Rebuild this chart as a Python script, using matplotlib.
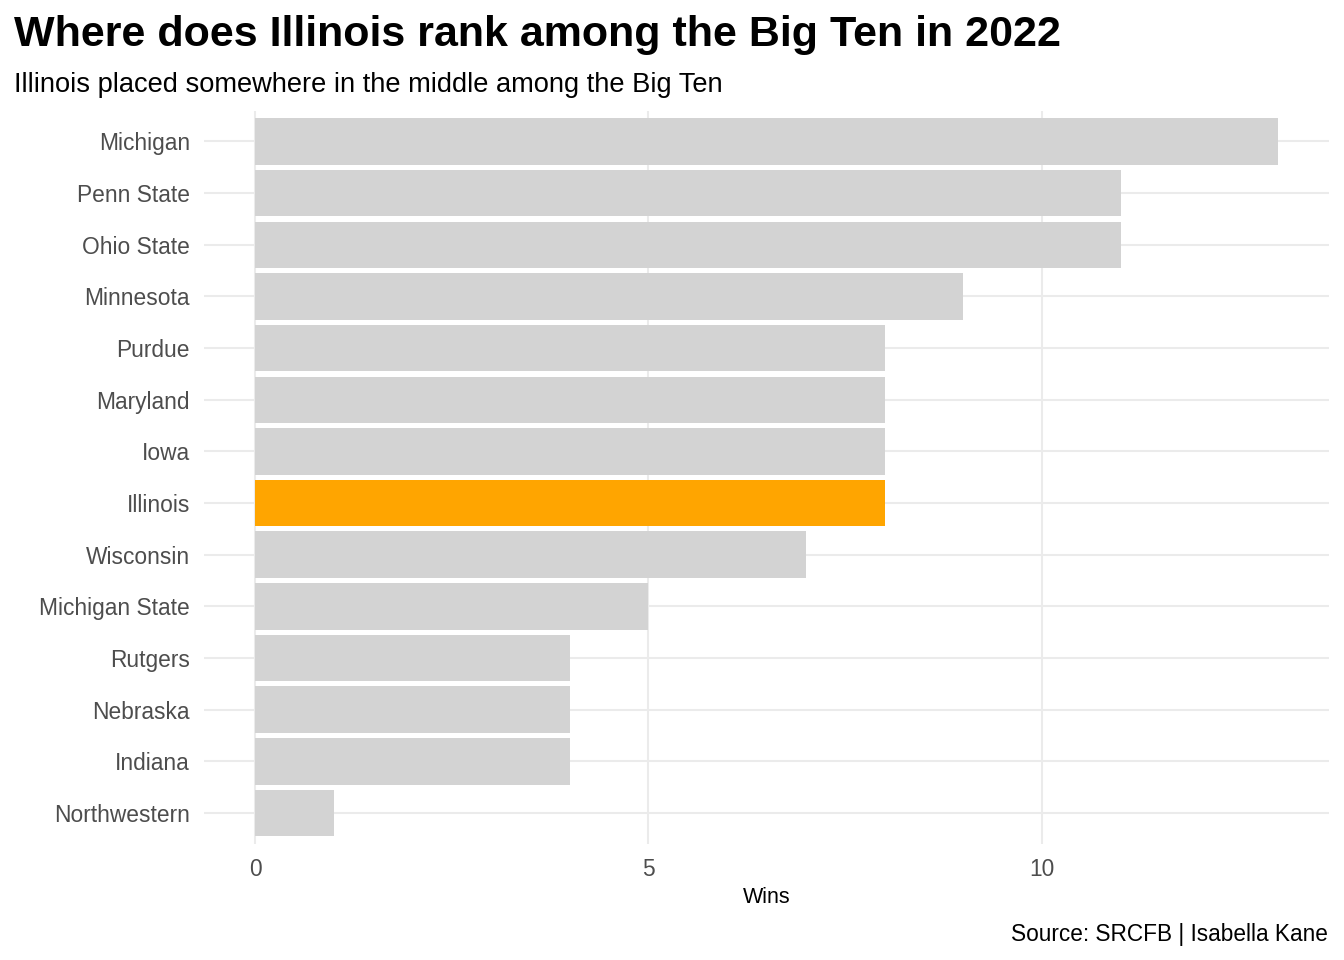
import matplotlib
matplotlib.use("Agg")
import matplotlib.pyplot as plt

teams = ["Michigan", "Penn State", "Ohio State", "Minnesota", "Purdue", "Maryland",
         "Iowa", "Illinois", "Wisconsin", "Michigan State", "Rutgers", "Nebraska",
         "Indiana", "Northwestern"]
wins = [13, 11, 11, 9, 8, 8, 8, 8, 7, 5, 4, 4, 4, 1]
highlight = "Illinois"
xticks = [0, 5, 10]

plt.rcParams['font.family'] = ['Liberation Sans', 'DejaVu Sans']

fig = plt.figure(figsize=(13.44, 9.6), dpi=100)
ax = fig.add_axes([204/1344, 1-844/960, (1329-204)/1344, (844-110.5)/960])

n = len(teams)
ypos = list(range(n))[::-1]
colors = ["#FFA500" if t == highlight else "#D3D3D3" for t in teams]
ax.barh(ypos, wins, height=0.9, color=colors, zorder=2)

xmax = max(wins)
ax.set_xlim(-0.05*xmax, xmax*1.05)
ax.set_ylim(-0.6, n-1+0.6)
ax.set_yticks(ypos)
ax.set_yticklabels(teams)
ax.set_xticks(xticks)
ax.set_xticklabels([str(v) for v in xticks])

for s in ax.spines.values():
    s.set_visible(False)
ax.grid(True, color="#EBEBEB", linewidth=1.5, zorder=0)
ax.set_axisbelow(True)
ax.tick_params(axis='both', length=0, labelsize=16.4, labelcolor="#4D4D4D")
ax.tick_params(axis='y', pad=10)
ax.tick_params(axis='x', pad=10)
ax.set_xlabel("Wins", fontsize=15.5, labelpad=4.5)

fig.text(14/1344, 1-35/960, "Where does Illinois rank among the Big Ten in 2022",
         fontsize=31, fontweight='bold', ha='left', va='center')
fig.text(14/1344, 1-85/960, "Illinois placed somewhere in the middle among the Big Ten",
         fontsize=19.6, ha='left', va='center')
fig.text(1328/1344, 1-935/960, "Source: SRCFB | Isabella Kane",
         fontsize=16.25, ha='right', va='center')

fig.savefig("out.png", dpi=100)
